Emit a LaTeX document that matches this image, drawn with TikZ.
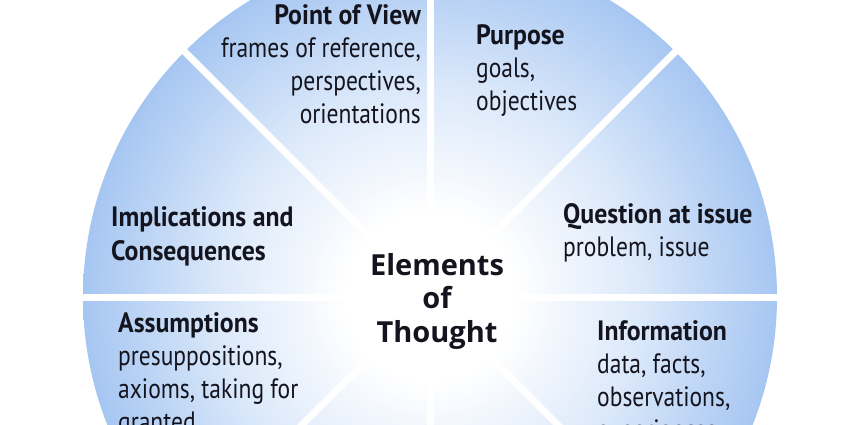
\documentclass[tikz,border=0pt]{standalone}
\usepackage{fontspec}
\setmainfont{PT Sans}[FakeStretch=0.84]
\newfontfamily\titlefont{PT Sans}[FakeStretch=0.92]
\newfontfamily\centerfont{Open Sans}
\definecolor{discedge}{RGB}{166,198,242}
\definecolor{discmid}{RGB}{220,233,250}
\definecolor{txt}{RGB}{20,20,30}
\pgfdeclareradialshading{discshade}{\pgfpoint{0bp}{0bp}}{color(0bp)=(white); color(6bp)=(white); color(15bp)=(discmid); color(25bp)=(discedge); color(50bp)=(discedge)}
\newcommand{\ttl}[1]{{\titlefont\bfseries #1}}
\tikzset{
  divider/.style={draw=white, line width=7pt},
  lbl/.style={font=\fontsize{28}{33}\selectfont, text=txt, inner sep=0pt},
  centerlbl/.style={font=\centerfont\bfseries\fontsize{29}{33.5}\selectfont, text=txt, inner sep=0pt, align=center}
}
\begin{document}
\begin{tikzpicture}[x=1pt,y=-1pt]
\useasboundingbox (0,0) rectangle (855,425);
\clip (0,0) rectangle (855,425);
\coordinate (C) at (430,297);
\shade[shading=discshade] (C) circle (347);
\foreach \a in {0,45,...,315} \draw[divider] (C) -- ++(\a:360);
% anchors refer to the baseline of the last line
\node[lbl, anchor=base east, align=right] (pov) at (421,124)
  {\ttl{Point of View}\\frames of reference,\\perspectives,\\orientations};
\node[lbl, anchor=base west, align=left] (purpose) at (476,111)
  {\ttl{Purpose}\\goals,\\objectives};
\node[lbl, anchor=base west, align=left] (question) at (563,256)
  {\ttl{Question at issue}\\problem, issue};
\node[lbl, anchor=base west, align=left] (information) at (597,439)
  {\ttl{Information}\\data, facts,\\observations,\\experiences};
\node[lbl, anchor=base west, align=left] (implications) at (111,260)
  {\ttl{Implications and}\\\ttl{Consequences}};
\node[lbl, anchor=base west, align=left] (assumptions) at (118,431)
  {\ttl{Assumptions}\\presuppositions,\\axioms, taking for\\granted};
\node[centerlbl, anchor=base] (elements) at (437,342)
  {Elements\\of\\Thought};
\end{tikzpicture}
\end{document}
